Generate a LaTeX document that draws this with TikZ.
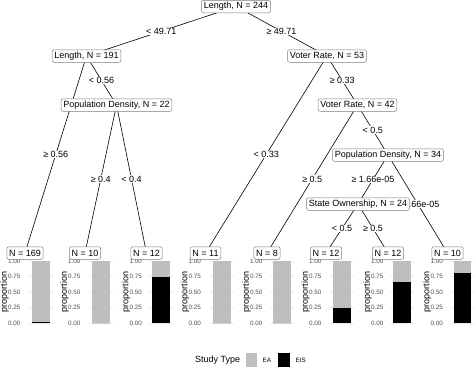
\documentclass[tikz,border=0pt]{standalone}
\usepackage{fontspec}
\setmainfont{Liberation Sans}
\pgfdeclarelayer{bg}
\pgfsetlayers{bg,main}
\definecolor{eagray}{RGB}{190,190,190}
\definecolor{tickgray}{RGB}{77,77,77}
\definecolor{boxgray}{RGB}{125,125,125}
\tikzset{
  x=1pt, y=-1pt,
  tbox/.style={draw=boxgray, fill=white, rounded corners=2pt, line width=0.5pt,
    font=\fontsize{9}{10}\selectfont, inner xsep=2.3pt, inner ysep=0pt, minimum height=12.5pt},
  elab/.style={fill=white, font=\fontsize{9}{10}\selectfont, inner xsep=1pt, inner ysep=0.5pt},
  conn/.style={line width=0.6pt, black},
  ticklab/.style={font=\fontsize{6.3}{7}\selectfont, text=tickgray, anchor=east, inner sep=0pt},
  ytitle/.style={font=\fontsize{9}{10}\selectfont, rotate=90, inner sep=0pt},
  gridl/.style={black!8, line width=0.4pt},
  legtxt/.style={font=\fontsize{6.3}{7}\selectfont, anchor=west, inner sep=0pt},
}
\begin{document}
\begin{tikzpicture}
\useasboundingbox (0,0) rectangle (474,367);

% inner nodes
\node[tbox] (root) at (236,6.5) {Length, N = 244};
\node[tbox] (l191) at (86.5,56) {Length, N = 191};
\node[tbox] (v53)  at (327,56) {Voter Rate, N = 53};
\node[tbox] (p22)  at (116.5,105) {Population Density, N = 22};
\node[tbox] (v42)  at (357.5,105) {Voter Rate, N = 42};
\node[tbox] (p34)  at (388,155) {Population Density, N = 34};
\node[tbox] (s24)  at (358,204) {State Ownership, N = 24};

% bar panels
\foreach \i/\c/\bl/\f in {1/25/32/0.024, 2/85/92/0, 3/146.5/152/0.75, 4/205.5/213/0,
                          5/267/273/0, 6/326/333/0.25, 7/388/393/0.667, 8/447.5/453.5/0.8} {
  \foreach \v/\t in {0/1.00, 0.25/0.75, 0.5/0.50, 0.75/0.25, 1/0.00} {
    \draw[gridl] (\bl-3,261+62*\v) -- (\bl+20.5,261+62*\v);
    \node[ticklab] (tk\i-\v) at (\c-4.5,261+62*\v) {\t};
  }
  \fill[eagray] (\bl,261) rectangle (\bl+17.5,323);
  \fill[black] (\bl,323-62*\f) rectangle (\bl+17.5,323);
  \node[ytitle] (yt\i) at (\c-20.5,292) {proportion};
}

% leaf nodes
\node[tbox] (n1) at (25,253) {N = 169};
\node[tbox] (n2) at (85,253) {N = 10};
\node[tbox] (n3) at (146.5,253) {N = 12};
\node[tbox] (n4) at (205.5,253) {N = 11};
\node[tbox] (n5) at (267,253) {N = 8};
\node[tbox] (n6) at (326,253) {N = 12};
\node[tbox] (n7) at (388,253) {N = 12};
\node[tbox] (n8) at (447.5,253) {N = 10};

% connectors
\begin{pgfonlayer}{bg}
\draw[conn] (root.center) -- node[elab] (e1) {< 49.71} (l191.center);
\draw[conn] (root.center) -- node[elab] (e2) {≥ 49.71} (v53.center);
\draw[conn] (l191.center) -- node[elab] (e3) {≥ 0.56} (n1.center);
\draw[conn] (l191.center) -- node[elab] (e4) {< 0.56} (p22.center);
\draw[conn] (p22.center) -- node[elab] (e5) {≥ 0.4} (n2.center);
\draw[conn] (p22.center) -- node[elab] (e6) {< 0.4} (n3.center);
\draw[conn] (v53.center) -- node[elab] (e7) {< 0.33} (n4.center);
\draw[conn] (v53.center) -- node[elab] (e8) {≥ 0.33} (v42.center);
\draw[conn] (v42.center) -- node[elab] (e9) {≥ 0.5} (n5.center);
\draw[conn] (v42.center) -- node[elab] (e10) {< 0.5} (p34.center);
\draw[conn] (p34.center) -- node[elab] (e12) {< 1.66e-05} (n8.center);
\draw[conn] (p34.center) -- node[elab] (e11) {≥ 1.66e-05} (s24.center);
\draw[conn] (s24.center) -- node[elab] (e13) {< 0.5} (n6.center);
\draw[conn] (s24.center) -- node[elab] (e14) {≥ 0.5} (n7.center);
\end{pgfonlayer}

% legend
\node[font=\fontsize{9}{10}\selectfont, anchor=west, inner sep=0pt] (legt) at (195,360) {Study Type};
\node[fill=eagray, minimum width=11pt, minimum height=13.5pt, inner sep=0pt, anchor=west] (kea) at (245.7,360) {};
\node[legtxt] (lea) at (262.5,360) {EA};
\node[fill=black, minimum width=12pt, minimum height=13.5pt, inner sep=0pt, anchor=west] (keis) at (278,360) {};
\node[legtxt] (leis) at (295.5,360) {EIS};
\end{tikzpicture}
\end{document}
